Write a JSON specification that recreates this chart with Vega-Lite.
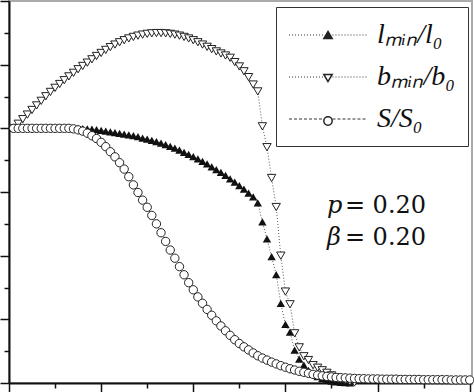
{
  "$schema": "https://vega.github.io/schema/vega-lite/v6.json",
  "width": 463,
  "height": 382,
  "autosize": "none",
  "padding": {"left": 9, "top": 1, "right": 2, "bottom": 9},
  "background": "white",
  "config": {
    "view": {"stroke": "#aaa", "strokeWidth": 2},
    "axis": {"grid": false, "labels": false, "title": null, "domainColor": "#111", "domainWidth": 2, "tickColor": "#111", "tickWidth": 1.5}
  },
  "data": {"values": [
    {"series":"l","x":0.1,"y":1},{"series":"l","x":0.2,"y":1},{"series":"l","x":0.3,"y":1},{"series":"l","x":0.4,"y":1},{"series":"l","x":0.5,"y":1},
    {"series":"l","x":0.6,"y":1},{"series":"l","x":0.7,"y":1},{"series":"l","x":0.8,"y":1},{"series":"l","x":0.9,"y":1},{"series":"l","x":1.0,"y":1},
    {"series":"l","x":1.1,"y":1},{"series":"l","x":1.2,"y":1},{"series":"l","x":1.3,"y":1},{"series":"l","x":1.4,"y":1},{"series":"l","x":1.5,"y":1},
    {"series":"l","x":1.6,"y":0.999},{"series":"l","x":1.7,"y":0.998},{"series":"l","x":1.8,"y":0.997},{"series":"l","x":1.9,"y":0.995},{"series":"l","x":2.0,"y":0.992},
    {"series":"l","x":2.1,"y":0.989},{"series":"l","x":2.2,"y":0.986},{"series":"l","x":2.3,"y":0.983},{"series":"l","x":2.4,"y":0.98},{"series":"l","x":2.5,"y":0.977},
    {"series":"l","x":2.6,"y":0.974},{"series":"l","x":2.7,"y":0.971},{"series":"l","x":2.8,"y":0.967},{"series":"l","x":2.9,"y":0.962},{"series":"l","x":3.0,"y":0.958},
    {"series":"l","x":3.1,"y":0.953},{"series":"l","x":3.2,"y":0.948},{"series":"l","x":3.3,"y":0.942},{"series":"l","x":3.4,"y":0.936},{"series":"l","x":3.5,"y":0.929},
    {"series":"l","x":3.6,"y":0.922},{"series":"l","x":3.7,"y":0.914},{"series":"l","x":3.8,"y":0.906},{"series":"l","x":3.9,"y":0.898},{"series":"l","x":4.0,"y":0.889},
    {"series":"l","x":4.1,"y":0.88},{"series":"l","x":4.2,"y":0.87},{"series":"l","x":4.3,"y":0.86},{"series":"l","x":4.4,"y":0.849},{"series":"l","x":4.5,"y":0.838},
    {"series":"l","x":4.6,"y":0.827},{"series":"l","x":4.7,"y":0.815},{"series":"l","x":4.8,"y":0.802},{"series":"l","x":4.9,"y":0.789},{"series":"l","x":5.0,"y":0.775},
    {"series":"l","x":5.1,"y":0.761},{"series":"l","x":5.2,"y":0.746},{"series":"l","x":5.3,"y":0.731},{"series":"l","x":5.4,"y":0.707},{"series":"l","x":5.5,"y":0.633},
    {"series":"l","x":5.6,"y":0.566},{"series":"l","x":5.7,"y":0.496},{"series":"l","x":5.8,"y":0.426},{"series":"l","x":5.9,"y":0.313},{"series":"l","x":6.0,"y":0.23},
    {"series":"l","x":6.1,"y":0.2},{"series":"l","x":6.2,"y":0.129},{"series":"l","x":6.3,"y":0.094},{"series":"l","x":6.4,"y":0.07},{"series":"l","x":6.5,"y":0.05},
    {"series":"l","x":6.6,"y":0.035},{"series":"l","x":6.7,"y":0.025},{"series":"l","x":6.8,"y":0.017},{"series":"l","x":6.9,"y":0.011},{"series":"l","x":7.0,"y":0.007},
    {"series":"l","x":7.1,"y":0.004},{"series":"l","x":7.2,"y":0.002},{"series":"l","x":7.3,"y":0.001},{"series":"l","x":7.4,"y":0},
    {"series":"b","x":0.1,"y":1.0},{"series":"b","x":0.2,"y":1.018},{"series":"b","x":0.3,"y":1.036},{"series":"b","x":0.4,"y":1.054},{"series":"b","x":0.5,"y":1.072},
    {"series":"b","x":0.6,"y":1.09},{"series":"b","x":0.7,"y":1.108},{"series":"b","x":0.8,"y":1.126},{"series":"b","x":0.9,"y":1.143},{"series":"b","x":1.0,"y":1.159},
    {"series":"b","x":1.1,"y":1.174},{"series":"b","x":1.2,"y":1.189},{"series":"b","x":1.3,"y":1.204},{"series":"b","x":1.4,"y":1.218},{"series":"b","x":1.5,"y":1.232},
    {"series":"b","x":1.6,"y":1.245},{"series":"b","x":1.7,"y":1.258},{"series":"b","x":1.8,"y":1.271},{"series":"b","x":1.9,"y":1.284},{"series":"b","x":2.0,"y":1.296},
    {"series":"b","x":2.1,"y":1.308},{"series":"b","x":2.2,"y":1.319},{"series":"b","x":2.3,"y":1.329},{"series":"b","x":2.4,"y":1.338},{"series":"b","x":2.5,"y":1.346},
    {"series":"b","x":2.6,"y":1.353},{"series":"b","x":2.7,"y":1.359},{"series":"b","x":2.8,"y":1.364},{"series":"b","x":2.9,"y":1.368},{"series":"b","x":3.0,"y":1.371},
    {"series":"b","x":3.1,"y":1.373},{"series":"b","x":3.2,"y":1.374},{"series":"b","x":3.3,"y":1.374},{"series":"b","x":3.4,"y":1.373},{"series":"b","x":3.5,"y":1.371},
    {"series":"b","x":3.6,"y":1.368},{"series":"b","x":3.7,"y":1.364},{"series":"b","x":3.8,"y":1.359},{"series":"b","x":3.9,"y":1.353},{"series":"b","x":4.0,"y":1.346},
    {"series":"b","x":4.1,"y":1.338},{"series":"b","x":4.2,"y":1.329},{"series":"b","x":4.3,"y":1.32},{"series":"b","x":4.4,"y":1.311},{"series":"b","x":4.5,"y":1.302},
    {"series":"b","x":4.6,"y":1.294},{"series":"b","x":4.7,"y":1.286},{"series":"b","x":4.8,"y":1.277},{"series":"b","x":4.9,"y":1.26},{"series":"b","x":5.0,"y":1.243},
    {"series":"b","x":5.1,"y":1.224},{"series":"b","x":5.2,"y":1.201},{"series":"b","x":5.3,"y":1.172},{"series":"b","x":5.4,"y":1.145},{"series":"b","x":5.5,"y":1.008},
    {"series":"b","x":5.6,"y":0.926},{"series":"b","x":5.7,"y":0.805},{"series":"b","x":5.8,"y":0.691},{"series":"b","x":5.9,"y":0.5},{"series":"b","x":6.0,"y":0.359},
    {"series":"b","x":6.1,"y":0.309},{"series":"b","x":6.2,"y":0.195},{"series":"b","x":6.3,"y":0.14},{"series":"b","x":6.4,"y":0.105},{"series":"b","x":6.5,"y":0.09},
    {"series":"b","x":6.6,"y":0.07},{"series":"b","x":6.7,"y":0.06},{"series":"b","x":6.8,"y":0.05},{"series":"b","x":6.9,"y":0.04},{"series":"b","x":7.0,"y":0.03},
    {"series":"b","x":7.1,"y":0.022},{"series":"b","x":7.2,"y":0.015},{"series":"b","x":7.3,"y":0.01},{"series":"b","x":7.4,"y":0.005},{"series":"b","x":7.5,"y":0.002},
    {"series":"S","x":0.1,"y":1},{"series":"S","x":0.2,"y":1},{"series":"S","x":0.3,"y":1},{"series":"S","x":0.4,"y":1},{"series":"S","x":0.5,"y":1},
    {"series":"S","x":0.6,"y":1},{"series":"S","x":0.7,"y":1},{"series":"S","x":0.8,"y":1},{"series":"S","x":0.9,"y":1},{"series":"S","x":1.0,"y":1},
    {"series":"S","x":1.1,"y":1},{"series":"S","x":1.2,"y":1},{"series":"S","x":1.3,"y":1},{"series":"S","x":1.4,"y":0.998},{"series":"S","x":1.5,"y":0.994},
    {"series":"S","x":1.6,"y":0.989},{"series":"S","x":1.7,"y":0.981},{"series":"S","x":1.8,"y":0.971},{"series":"S","x":1.9,"y":0.96},{"series":"S","x":2.0,"y":0.945},
    {"series":"S","x":2.1,"y":0.928},{"series":"S","x":2.2,"y":0.908},{"series":"S","x":2.3,"y":0.888},{"series":"S","x":2.4,"y":0.865},{"series":"S","x":2.5,"y":0.84},
    {"series":"S","x":2.6,"y":0.81},{"series":"S","x":2.7,"y":0.778},{"series":"S","x":2.8,"y":0.748},{"series":"S","x":2.9,"y":0.718},{"series":"S","x":3.0,"y":0.69},
    {"series":"S","x":3.1,"y":0.658},{"series":"S","x":3.2,"y":0.625},{"series":"S","x":3.3,"y":0.59},{"series":"S","x":3.4,"y":0.556},{"series":"S","x":3.5,"y":0.522},
    {"series":"S","x":3.6,"y":0.49},{"series":"S","x":3.7,"y":0.457},{"series":"S","x":3.8,"y":0.425},{"series":"S","x":3.9,"y":0.394},{"series":"S","x":4.0,"y":0.366},
    {"series":"S","x":4.1,"y":0.338},{"series":"S","x":4.2,"y":0.313},{"series":"S","x":4.3,"y":0.289},{"series":"S","x":4.4,"y":0.266},{"series":"S","x":4.5,"y":0.244},
    {"series":"S","x":4.6,"y":0.224},{"series":"S","x":4.7,"y":0.205},{"series":"S","x":4.8,"y":0.187},{"series":"S","x":4.9,"y":0.17},{"series":"S","x":5.0,"y":0.155},
    {"series":"S","x":5.1,"y":0.142},{"series":"S","x":5.2,"y":0.13},{"series":"S","x":5.3,"y":0.118},{"series":"S","x":5.4,"y":0.107},{"series":"S","x":5.5,"y":0.098},
    {"series":"S","x":5.6,"y":0.09},{"series":"S","x":5.7,"y":0.082},{"series":"S","x":5.8,"y":0.075},{"series":"S","x":5.9,"y":0.068},{"series":"S","x":6.0,"y":0.062},
    {"series":"S","x":6.1,"y":0.056},{"series":"S","x":6.2,"y":0.051},{"series":"S","x":6.3,"y":0.046},{"series":"S","x":6.4,"y":0.042},{"series":"S","x":6.5,"y":0.038},
    {"series":"S","x":6.6,"y":0.034},{"series":"S","x":6.7,"y":0.031},{"series":"S","x":6.8,"y":0.028},{"series":"S","x":6.9,"y":0.026},{"series":"S","x":7.0,"y":0.024},
    {"series":"S","x":7.1,"y":0.022},{"series":"S","x":7.2,"y":0.021},{"series":"S","x":7.3,"y":0.02},{"series":"S","x":7.4,"y":0.019},{"series":"S","x":7.5,"y":0.018},
    {"series":"S","x":7.6,"y":0.017},{"series":"S","x":7.7,"y":0.017},{"series":"S","x":7.8,"y":0.016},{"series":"S","x":7.9,"y":0.016},{"series":"S","x":8.0,"y":0.016},
    {"series":"S","x":8.1,"y":0.015},{"series":"S","x":8.2,"y":0.015},{"series":"S","x":8.3,"y":0.015},{"series":"S","x":8.4,"y":0.015},{"series":"S","x":8.5,"y":0.014},
    {"series":"S","x":8.6,"y":0.014},{"series":"S","x":8.7,"y":0.014},{"series":"S","x":8.8,"y":0.014},{"series":"S","x":8.9,"y":0.014},{"series":"S","x":9.0,"y":0.013},
    {"series":"S","x":9.1,"y":0.013},{"series":"S","x":9.2,"y":0.013},{"series":"S","x":9.3,"y":0.013},{"series":"S","x":9.4,"y":0.013},{"series":"S","x":9.5,"y":0.013},
    {"series":"S","x":9.6,"y":0.012},{"series":"S","x":9.7,"y":0.012},{"series":"S","x":9.8,"y":0.012},{"series":"S","x":9.9,"y":0.012},{"series":"S","x":10.0,"y":0.012}
  ]},
  "encoding": {
    "x": {"field": "x", "type": "quantitative", "scale": {"domain": [0, 10.05], "nice": false, "zero": false},
      "axis": {"values": [0,1,2,3,4,5,6,7,8,9,10], "tickSize": {"condition": {"test": "datum.value % 2 === 0", "value": 9}, "value": 5}}},
    "y": {"field": "y", "type": "quantitative", "scale": {"domain": [0, 1.5], "nice": false, "zero": false},
      "axis": {"values": [0,0.125,0.25,0.375,0.5,0.625,0.75,0.875,1,1.125,1.25,1.375,1.5], "tickSize": {"condition": {"test": "(datum.value * 4) % 1 === 0", "value": 9}, "value": 5}}}
  },
  "layer": [
    {
      "mark": {"type": "line", "color": "#555", "strokeWidth": 1},
      "encoding": {
        "strokeDash": {"field": "series", "type": "nominal", "sort": ["l", "b", "S"],
          "scale": {"range": [[1, 2], [1, 2], [3, 2]]},
          "legend": {"orient": "none", "legendX": 267, "legendY": 6, "title": null, "padding": 13, "rowPadding": 13,
            "strokeColor": "#333", "fillColor": "white",
            "symbolType": "M-2.69,0L-0.31,0M0.31,0L2.69,0", "symbolSize": 841, "symbolOffset": 24,
            "symbolStrokeColor": "#333", "symbolStrokeWidth": 1, "symbolFillColor": "transparent",
            "labelFont": "Liberation Serif", "labelFontStyle": "italic", "labelFontSize": 28, "labelColor": "#111",
            "labelOffset": 34, "labelLimit": 0,
            "labelExpr": "datum.label === 'l' ? 'lₘᵢₙ/l₀' : datum.label === 'b' ? 'bₘᵢₙ/b₀' : 'S/S₀'"}}
      }
    },
    {
      "transform": [{"filter": "datum.series === 'l'"}],
      "mark": {"type": "point", "shape": "triangle-up", "filled": true, "size": 70, "color": "#111", "opacity": 1}
    },
    {
      "transform": [{"filter": "datum.series !== 'l'"}],
      "mark": {"type": "point", "filled": true, "size": 70, "fill": "white", "stroke": "#222", "strokeWidth": 1, "opacity": 1},
      "encoding": {
        "shape": {"field": "series", "type": "nominal",
          "scale": {"domain": ["l", "b", "S"], "range": ["M0,-0.866L1,0.866L-1,0.866Z M-0.858,0.62L0.858,0.62 M-0.714,0.37L0.714,0.37 M-0.569,0.12L0.569,0.12 M-0.425,-0.13L0.425,-0.13 M-0.281,-0.38L0.281,-0.38 M-0.136,-0.63L0.136,-0.63", "triangle-down", "circle"]},
          "legend": {"orient": "none", "legendX": 267, "legendY": 6, "title": null, "padding": 13, "rowPadding": 13,
            "symbolSize": 70, "symbolOffset": 24, "symbolOpacity": 1,
            "labelFont": "Liberation Serif", "labelFontSize": 30, "labelOffset": 34, "labelLimit": 0,
            "labelExpr": "' '"}}
      }
    },
    {
      "data": {"values": [
        {"sym": "p", "val": "= 0.20", "x": 6.9, "y": 0.668},
        {"sym": "β", "val": "= 0.20", "x": 6.9, "y": 0.542}
      ]},
      "layer": [
        {"mark": {"type": "text", "align": "left", "baseline": "alphabetic", "font": "DejaVu Serif", "fontStyle": "italic", "fontSize": 24, "color": "#111"},
         "encoding": {"text": {"field": "sym"}}},
        {"mark": {"type": "text", "align": "left", "baseline": "alphabetic", "font": "DejaVu Serif", "fontSize": 24, "color": "#111", "dx": 18},
         "encoding": {"text": {"field": "val"}}}
      ]
    }
  ]
}
